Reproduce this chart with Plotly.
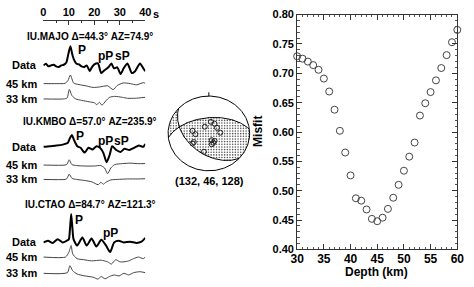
import numpy as np
import plotly.graph_objects as go

W, H = 474, 287
FONT = "Liberation Sans, Arial, sans-serif"

# ---------------- data ----------------
# Misfit vs depth
depth_km = list(range(30, 61))
misfit = [0.729, 0.725, 0.720, 0.714, 0.706, 0.691, 0.669, 0.638, 0.602, 0.565,
          0.526, 0.487, 0.483, 0.468, 0.452, 0.448, 0.454, 0.469, 0.488, 0.510,
          0.534, 0.558, 0.582, 0.628, 0.649, 0.668, 0.688, 0.709, 0.731, 0.753, 0.774]

# Waveforms (time in s, amplitude in display units, up positive)
majo_data_t = [0, 1, 2, 3, 4, 5, 6, 7, 8, 9, 9.8, 10.6, 11.3, 12, 13, 14, 15, 16, 17, 18.2, 19, 20,
               21.4, 22.7, 24, 25.5, 26.7, 27.7, 29, 30.3, 31.5, 33, 34.7, 36, 37.9, 39.2, 40]
majo_data_a = [0, 1.7, -1, 0, 0.7, -1, -1.7, 0, 0.7, 3, 12, 20, 12, 6, 1.7, 1, -1, -1.7, 0, -6, -2, 1,
               2, -8, -5, -2, 2, -3, -2, -9, -3, 2, -8, -6, 2, -3, -6]
majo_45_t = [0, 5, 8.5, 9.6, 10.6, 11.9, 14, 17, 19.5, 22, 25.2, 27.4, 29, 31.3, 34.1, 36.6, 39.2, 40]
majo_45_a = [0, 0, 0.3, 3, 9, 0.5, -1, -2.5, -4, -3.5, -2.3, -6.3, -2, 0.7, 0, -1.3, 1, 0.3]
majo_33_t = [0, 8, 9.3, 10.2, 11.2, 12.7, 15, 18, 20, 21, 22, 23, 24.5, 26, 28, 31, 33, 36, 40]
majo_33_a = [0, 0, 1, 10, 3.5, 0, -1.5, -3, -4, -6, -3.5, -6.5, -2, 1.7, 2.7, 1.7, 0.7, 0.7, 1.7]

kmbo_data_t = [0, 2.5, 5.1, 7.6, 9.5, 10.4, 11.2, 12.0, 13.3, 14.6, 16.2, 17.7, 19.3, 20.9, 22.2,
               23.5, 24.8, 26.1, 27.0, 28.6, 30.3, 31.8, 33.7, 35.6, 37.5, 39.2, 40]
kmbo_data_a = [0, 0.7, 1.3, 2.3, 4, 9, 12.3, 7.3, 0.7, -1, -6, -1, -2.7, 0.7, -1,
               -6, -16, -7.7, 0.7, -3.3, -5.3, -2, -3.3, -1, 1.3, 0, 3]
kmbo_45_t = [0, 8.5, 9.3, 10.1, 11.2, 13, 16, 20, 22.5, 24, 25.2, 26.5, 28, 31, 34, 37, 40]
kmbo_45_a = [0, 0, 1, 5.5, 0.5, -0.5, -1, -1, -0.5, -3, -9, -3, 0.5, 1.5, 2, 1.5, 1.5]
kmbo_33_t = [0, 8.5, 9.3, 10.1, 11.3, 13, 16, 19, 21.5, 22.6, 23.5, 24.5, 26.5, 29, 33, 37, 40]
kmbo_33_a = [0, 0, 1, 5.5, 1, 0, -1, -2.5, -5.5, -3, -5, -3, -0.5, 0, 0.5, 0.5, 0.7]

ctao_data_t = [0, 1.8, 3.7, 5.6, 7.5, 9.1, 10.0, 10.4, 10.9, 11.4, 11.8, 13.2, 15.3, 17.0, 18.9,
               20.8, 22.7, 24.6, 26.2, 27.8, 29.6, 31.5, 34.1, 36.6, 38.5, 40]
ctao_data_a = [-0.7, 1, -1.3, 2.7, -0.7, 1, 2.7, 12, 29, 14, 3, -4, 4.3, -4, 3.3,
               -5, 2, -4, -10.7, -0.7, 1, -0.7, 0, -1.3, 0, 4]
ctao_45_t = [0, 8.7, 10, 10.9, 11.5, 13.2, 15.7, 18.9, 22.7, 25.2, 26.7, 28.4, 30, 31.6, 33.5,
             35.4, 37.3, 39.2, 40]
ctao_45_a = [0, 0, 5, 12, 3.3, -1.7, -2.7, -4, -3.3, -5, -7.3, -2.7, -5, -5, -4,
             -1.7, 0, -1.7, 0]
ctao_33_t = [0, 9.4, 10.4, 11.5, 13.2, 16.3, 19.5, 21.4, 22.7, 24.2, 25.9, 27.8, 29.7, 31.6,
             33.5, 35.4, 37.9, 40]
ctao_33_a = [0, 0.7, 8, 2.7, -0.7, -2.7, -4, -6, -3.3, -5.7, -3.3, -1.7, -2.7, 0,
             -1.7, 0.7, 1.7, 0.7]

stations = ["IU.MAJO Δ=44.3° AZ=74.9°", "IU.KMBO Δ=57.0° AZ=235.9°", "IU.CTAO Δ=84.7° AZ=121.3°"]
trace_names = ["Data", "45 km", "33 km"]
time_ticks = [0, 10, 20, 30, 40]

# focal mechanism (strike, dip, rake)
strike, dip, rake = 132, 46, 128
# first-motion station positions in projection (unit circle, x east, y north)
pol_x = [-0.10, 0.05, 0.14, 0.20, 0.28, -0.40, -0.33, -0.37, -0.40, 0.07, 0.11, 0.14, 0.07, -0.12]
pol_y = [0.18, 0.31, 0.26, 0.15, 0.02, 0.07, -0.02, -0.23, -0.27, -0.18, -0.25, -0.20, -0.29, -0.49]

# ---------------- layout helpers ----------------
def pxx(x):
    return x / W

def pxy(y):
    return 1 - y / H

def label(x, y, text, size, xanchor="center", angle=0):
    return dict(x=pxx(x), y=pxy(y), xref="paper", yref="paper", text=text,
                showarrow=False, xanchor=xanchor, yanchor="middle", textangle=angle,
                font=dict(family=FONT, size=size, color="black", weight="bold"))

fig = go.Figure()

# ---------- waveforms (y axis in pixel units) ----------
wave_sets = [
    [(majo_data_t, majo_data_a), (majo_45_t, majo_45_a), (majo_33_t, majo_33_a)],
    [(kmbo_data_t, kmbo_data_a), (kmbo_45_t, kmbo_45_a), (kmbo_33_t, kmbo_33_a)],
    [(ctao_data_t, ctao_data_a), (ctao_45_t, ctao_45_a), (ctao_33_t, ctao_33_a)],
]
baselines = [[62, 81, 97], [147, 166, 181], [246, 262, 279]]
header_y = [32, 121, 207]

for s, group in enumerate(wave_sets):
    for k, (t, a) in enumerate(group):
        yb = baselines[s][k]
        yy = [yb - v for v in a]
        fig.add_trace(go.Scatter(
            x=t, y=yy, mode="lines", xaxis="x", yaxis="y",
            line=dict(color="black" if k == 0 else "#444", width=2.0 if k == 0 else 1.0,
                      shape="spline", smoothing=0.6),
            showlegend=False, hoverinfo="skip"))

annotations = []
for s in range(3):
    annotations.append(label(86, header_y[s], stations[s], 10))
    for k in range(3):
        annotations.append(label(33, baselines[s][k], trace_names[k], 11, xanchor="right"))

phase_labels = [("P", 77, 46), ("pP", 101, 52), ("sP", 119, 52),
                ("P", 75, 136), ("pP", 102, 141), ("sP", 118, 141),
                ("P", 74, 223), ("pP", 107, 237)]
for txt, x, y in phase_labels:
    annotations.append(label(x, y, txt, 12))
annotations.append(label(154, 8, "s", 11))

# ---------- beachball ----------
d2r = np.pi / 180
phi, delta, lam = strike * d2r, dip * d2r, rake * d2r
nvec = np.array([-np.sin(delta) * np.sin(phi), np.sin(delta) * np.cos(phi), -np.cos(delta)])
svec = np.array([np.cos(lam) * np.cos(phi) + np.sin(lam) * np.cos(delta) * np.sin(phi),
                 np.cos(lam) * np.sin(phi) - np.sin(lam) * np.cos(delta) * np.cos(phi),
                 -np.sin(lam) * np.sin(delta)])

def radiation(xu, yu):
    r = np.sqrt(xu ** 2 + yu ** 2)
    inc = 2 * np.arcsin(np.clip(r / np.sqrt(2), 0, 1))
    az = np.arctan2(xu, yu)
    g = np.stack([np.sin(inc) * np.cos(az), np.sin(inc) * np.sin(az), np.cos(inc)])
    gn = (g * nvec[:, None]).sum(0)
    gs = (g * svec[:, None]).sum(0)
    return gn * gs

gx, gy = np.meshgrid(np.arange(-1, 1.001, 0.066), np.arange(-1, 1.001, 0.071))
gx, gy = gx.ravel(), gy.ravel()
inside = gx ** 2 + gy ** 2 < 0.985
amp = radiation(gx, gy)
sel = inside & (amp > 0)
fig.add_trace(go.Scatter(x=gx[sel], y=gy[sel], mode="markers", xaxis="x2", yaxis="y2",
                         marker=dict(size=1.6, color="#555"), showlegend=False, hoverinfo="skip"))

def plane_curve(strk, dp):
    p, d = strk * d2r, dp * d2r
    th = np.linspace(0, np.pi, 120)
    sv = np.array([np.cos(p), np.sin(p), 0.0])
    dv = np.array([np.cos(p + np.pi / 2) * np.cos(d), np.sin(p + np.pi / 2) * np.cos(d), np.sin(d)])
    v = np.outer(np.cos(th), sv) + np.outer(np.sin(th), dv)
    inc = np.arccos(np.clip(v[:, 2], -1, 1))
    az = np.arctan2(v[:, 1], v[:, 0])
    r = np.sqrt(2) * np.sin(inc / 2)
    return r * np.sin(az), r * np.cos(az)

# auxiliary plane from slip vector
sv_up = svec if svec[2] < 0 else -svec
aux_dip = np.degrees(np.arccos(abs(sv_up[2])))
aux_dipdir = np.degrees(np.arctan2(sv_up[1], sv_up[0]))
aux_strike = (aux_dipdir - 90) % 360

for (st, dp) in [(strike, dip), (aux_strike, aux_dip)]:
    cx, cy = plane_curve(st, dp)
    fig.add_trace(go.Scatter(x=cx, y=cy, mode="lines", xaxis="x2", yaxis="y2",
                             line=dict(color="black", width=1), showlegend=False, hoverinfo="skip"))

ang = np.linspace(0, 2 * np.pi, 200)
fig.add_trace(go.Scatter(x=np.cos(ang), y=np.sin(ang), mode="lines", xaxis="x2", yaxis="y2",
                         line=dict(color="black", width=1), showlegend=False, hoverinfo="skip"))
fig.add_trace(go.Scatter(x=[0, 0], y=[1, 1.1], mode="lines", xaxis="x2", yaxis="y2",
                         line=dict(color="black", width=1), showlegend=False, hoverinfo="skip"))
fig.add_trace(go.Scatter(x=pol_x, y=pol_y, mode="markers", xaxis="x2", yaxis="y2",
                         marker=dict(symbol="circle-open", size=5, color="#222",
                                     line=dict(width=1, color="#222")),
                         showlegend=False, hoverinfo="skip"))
annotations.append(label(209, 183, f"({strike}, {dip}, {rake})", 11))

# ---------- misfit scatter ----------
fig.add_trace(go.Scatter(x=depth_km, y=misfit, mode="markers", xaxis="x3", yaxis="y3",
                         marker=dict(symbol="circle-open", size=7, color="#444",
                                     line=dict(width=1, color="#444")),
                         showlegend=False, hoverinfo="skip", cliponaxis=False))
annotations.append(label(381, 278, "Depth (km)", 12))
annotations.append(label(258, 131, "Misfit", 12, angle=-90))

tickfont = dict(family=FONT, size=11, color="black", weight="bold")
# beachball: centre (208, 133) px, semi-axes 42 x 39 px
bcx, bcy, brx, bry = 208, 133, 42, 39
pad = 1.15
fig.update_layout(
    width=W, height=H, margin=dict(l=0, r=0, t=0, b=0),
    paper_bgcolor="white", plot_bgcolor="rgba(0,0,0,0)",
    annotations=annotations,
    xaxis=dict(domain=[pxx(37.5), pxx(142.5)], range=[0, 40], side="top", anchor="free",
               position=pxy(15), showline=True, linecolor="#333", linewidth=1,
               ticks="inside", ticklen=4, tickcolor="#333", tickvals=time_ticks,
               ticktext=[str(v) for v in time_ticks], tickfont=tickfont,
               minor=dict(ticks="inside", ticklen=2, dtick=5, tickcolor="#333"),
               showgrid=False, zeroline=False),
    yaxis=dict(domain=[0, 1], range=[H, 0], visible=False, showgrid=False, zeroline=False),
    xaxis2=dict(domain=[pxx(bcx - brx * pad), pxx(bcx + brx * pad)], range=[-pad, pad], visible=False,
                showgrid=False, zeroline=False, anchor="y2"),
    yaxis2=dict(domain=[pxy(bcy + bry * pad), pxy(bcy - bry * pad)], range=[-pad, pad], visible=False,
                showgrid=False, zeroline=False, anchor="x2"),
    xaxis3=dict(domain=[pxx(299), pxx(464)], range=[30, 60], anchor="y3",
                showline=True, mirror="ticks", linecolor="#333", linewidth=1,
                ticks="inside", ticklen=5, tickcolor="#333", dtick=5, tick0=30,
                tickfont=dict(family=FONT, size=12, color="black", weight="bold"),
                ticklabelstandoff=-2,
                minor=dict(ticks="inside", ticklen=2.5, dtick=1, tickcolor="#555"),
                showgrid=False, zeroline=False),
    yaxis3=dict(domain=[pxy(254), pxy(9)], range=[0.40, 0.80], anchor="x3",
                showline=True, mirror="ticks", linecolor="#333", linewidth=1,
                ticks="inside", ticklen=5, tickcolor="#333", dtick=0.05, tick0=0.4,
                tickformat=".2f", tickfont=tickfont,
                minor=dict(ticks="inside", ticklen=2.5, dtick=0.01, tickcolor="#555"),
                showgrid=False, zeroline=False),
)

fig.write_html("out.html")
